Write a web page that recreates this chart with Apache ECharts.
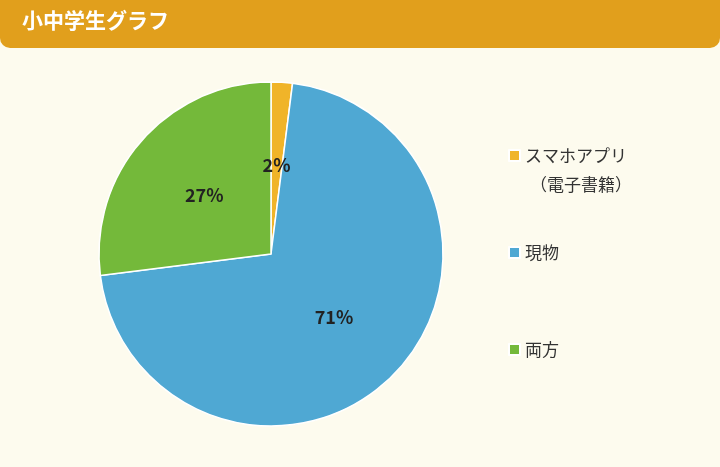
<!DOCTYPE html>
<html><head><meta charset="utf-8">
<script src="https://cdn.jsdelivr.net/npm/echarts@6/dist/echarts.min.js"></script>
<style>html,body{margin:0;padding:0;background:#fdfbee;}#c{width:720px;height:467px;}</style>
</head><body><div id="c"></div>
<script>
const categories = ['スマホアプリ', '現物', '両方'];
const values = [2, 71, 27];
const colors = ['#f0b429', '#4fa8d3', '#74b93a'];
const chart = echarts.init(document.getElementById('c'));
const font = '"Noto Sans CJK JP", "Noto Sans", sans-serif';
chart.setOption({
  backgroundColor: '#fdfbee',
  graphic: [
    {type:'rect', shape:{x:0,y:0,width:720,height:48,r:[0,0,10,10]}, style:{fill:'#e19f1c'}},
    {type:'text', left:22, top:10, style:{text:'小中学生グラフ', fill:'#fff', font:'bold 21px '+font}},
    {type:'text', left:530, top:176, style:{text:'（電子書籍）', fill:'#333', font:'17px '+font}}
  ],
  legend: {
    orient:'vertical', left:503, top:142, itemWidth:11, itemHeight:11, itemGap:80,
    icon:'rect', textStyle:{fontSize:17, color:'#333', fontFamily:font},
    data: categories
  },
  series: [{
    type:'pie', center:[271,254], radius:172, startAngle:90, clockwise:true,
    itemStyle:{borderColor:'#fff', borderWidth:1.5},
    label:{show:true, position:'inside', formatter:'{c}%', fontSize:18, fontWeight:'bold', color:'#222', fontFamily:font},
    labelLine:{show:false},
    emphasis:{disabled:true},
    data: categories.map((n,i)=>({name:n, value:values[i], itemStyle:{color:colors[i]}}))
  }]
});
</script></body></html>
